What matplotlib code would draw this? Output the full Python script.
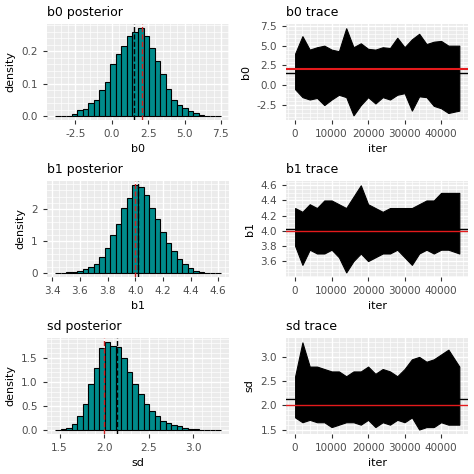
import numpy as np
import matplotlib.pyplot as plt

# histogram densities
b0_edges_lo, b0_width = -3.9, 0.38
b0_dens = [0.0, 0.0, 0.002, 0.008, 0.018, 0.022, 0.04, 0.05, 0.08, 0.105, 0.16, 0.19, 0.215, 0.245, 0.26,
           0.27, 0.245, 0.21, 0.17, 0.13, 0.085, 0.05, 0.035, 0.025, 0.015, 0.01, 0.003, 0.001, 0.0, 0.0]
b1_edges_lo, b1_width = 3.42, 0.04
b1_dens = [0.01, 0.02, 0.03, 0.05, 0.08, 0.12, 0.2, 0.28, 0.5, 0.8, 1.2, 1.55, 2.05,
           2.35, 2.75, 2.7, 2.45, 2.05, 1.7, 1.3, 0.95, 0.7, 0.45, 0.28, 0.15, 0.08, 0.04, 0.02, 0.01, 0.01]
sd_edges_lo, sd_width = 1.45, 0.062
sd_dens = [0.0, 0.02, 0.05, 0.13, 0.3, 0.55, 0.95, 1.3, 1.7, 1.82, 1.75, 1.72, 1.5, 1.2, 0.95,
           0.75, 0.55, 0.4, 0.3, 0.2, 0.15, 0.12, 0.08, 0.05, 0.03, 0.02, 0.01, 0.005, 0.0, 0.0]

# trace envelopes per 2000-iteration chunk
chunk_iter = [0, 2000, 4000, 6000, 8000, 10000, 12000, 14000, 16000, 18000, 20000, 22000,
              24000, 26000, 28000, 30000, 32000, 34000, 36000, 38000, 40000, 42000, 45000]
b0_hi = [4, 6.2, 4.5, 4.8, 5, 4.5, 4.3, 7.2, 4.8, 5.3, 4.6, 4.5, 4.8, 4.7, 6, 4.8, 5.8, 6.5, 5.2, 5.5, 5.6, 5, 5]
b0_lo = [-0.5, -1.5, -1.8, -1.6, -2.5, -1.8, -1.2, -1.5, -3.8, -2.5, -1.5, -2.3, -1.5, -1.8, -1.2, -1,
         -3.2, -1.4, -1.5, -2.6, -2.9, -3.5, -3.2]
b1_hi = [4.3, 4.25, 4.35, 4.3, 4.4, 4.4, 4.35, 4.3, 4.45, 4.6, 4.35, 4.3, 4.25, 4.3, 4.3, 4.3, 4.3, 4.35,
         4.4, 4.4, 4.5, 4.5, 4.5]
b1_lo = [3.8, 3.55, 3.75, 3.7, 3.7, 3.75, 3.65, 3.45, 3.6, 3.7, 3.6, 3.65, 3.7, 3.7, 3.75, 3.65, 3.55, 3.7,
         3.75, 3.7, 3.75, 3.75, 3.7]
sd_hi = [2.6, 3.3, 2.8, 2.8, 2.75, 2.7, 2.7, 2.6, 2.7, 2.7, 2.8, 2.65, 2.75, 2.7, 2.6, 2.75, 2.95, 3.0,
         2.9, 2.95, 3.05, 3.15, 2.8]
sd_lo = [1.75, 1.65, 1.7, 1.65, 1.65, 1.55, 1.6, 1.65, 1.65, 1.6, 1.7, 1.55, 1.65, 1.6, 1.7, 1.65, 1.75,
         1.5, 1.55, 1.55, 1.65, 1.6, 1.6]

# (true value, posterior mean)
b0_lines = (2.05, 1.5)
b1_lines = (4.0, 4.02)
sd_lines = (2.0, 2.14)


def gg_style(ax):
    ax.set_facecolor('#EBEBEB')
    ax.grid(True, which='major', color='white', lw=1.0)
    ax.minorticks_on()
    ax.grid(True, which='minor', color='white', lw=0.5)
    ax.tick_params(which='minor', length=0)
    ax.tick_params(which='major', length=3, color='#333333', labelsize=7.5, labelcolor='#4D4D4D')
    ax.set_axisbelow(True)
    for s in ax.spines.values():
        s.set_visible(False)


fig, axes = plt.subplots(3, 2, figsize=(4.74, 4.74), dpi=100)
hists = [('b0', b0_edges_lo, b0_width, b0_dens, b0_lines, [-2.5, 0, 2.5, 5, 7.5]),
         ('b1', b1_edges_lo, b1_width, b1_dens, b1_lines, [3.4, 3.6, 3.8, 4.0, 4.2, 4.4, 4.6]),
         ('sd', sd_edges_lo, sd_width, sd_dens, sd_lines, [1.5, 2.0, 2.5, 3.0])]
traces = [('b0', b0_hi, b0_lo, b0_lines, [-2.5, 0, 2.5, 5, 7.5]),
          ('b1', b1_hi, b1_lo, b1_lines, [3.6, 3.8, 4.0, 4.2, 4.4, 4.6]),
          ('sd', sd_hi, sd_lo, sd_lines, [1.5, 2.0, 2.5, 3.0])]

for i, (name, lo, w, dens, lines, ticks) in enumerate(hists):
    ax = axes[i, 0]
    gg_style(ax)
    left = lo + w * np.arange(len(dens))
    ax.bar(left, dens, width=w, align='edge', color='#008B8B', edgecolor='black', lw=0.8)
    ax.axvline(lines[0], color='#CC2222', ls='--', lw=1)
    ax.axvline(lines[1], color='black', ls='--', lw=1)
    ax.set_xticks(ticks)
    ax.set_xticklabels(['%.1f' % t for t in ticks])
    ax.set_title(name + ' posterior', loc='left', fontsize=9)
    ax.set_xlabel(name, fontsize=8)
    ax.set_ylabel('density', fontsize=8)
    ax.set_ylim(-max(dens) * 0.04, max(dens) * 1.05)

for i, (name, hi, lo, lines, ticks) in enumerate(traces):
    ax = axes[i, 1]
    gg_style(ax)
    ax.fill_between(chunk_iter, lo, hi, color='black', lw=0.8)
    ax.axhline(lines[1], color='black', lw=1)
    ax.axhline(lines[0], color='#E41A1C', lw=1.5 if name == 'b0' else 1)
    ax.set_xticks([0, 10000, 20000, 30000, 40000])
    ax.set_yticks(ticks)
    ax.set_yticklabels(['%.1f' % t for t in ticks])
    ax.set_xlim(-2500, 47500)
    ax.set_title(name + ' trace', loc='left', fontsize=9)
    ax.set_xlabel('iter', fontsize=8)
    ax.set_ylabel(name, fontsize=8)

fig.tight_layout(pad=0.4, h_pad=0.6, w_pad=0.8)
fig.savefig('out.png')
